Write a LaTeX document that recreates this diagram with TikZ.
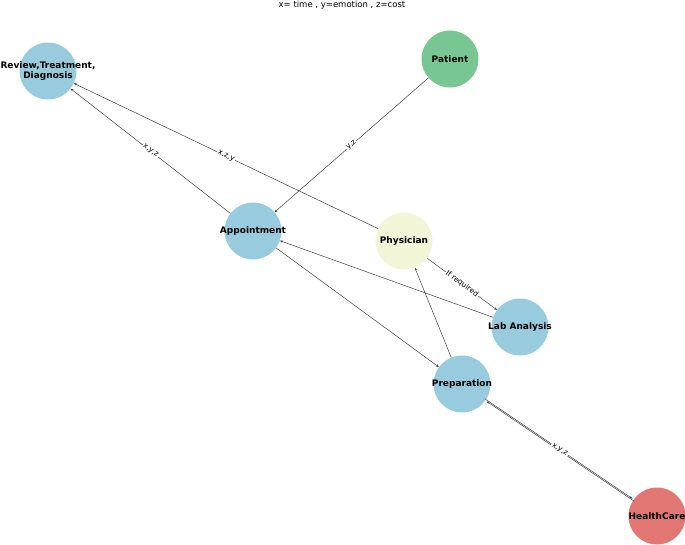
\documentclass[tikz,border=0pt]{standalone}
\usepackage{fontspec}
\setmainfont{DejaVu Sans}
\usetikzlibrary{arrows.meta}
\definecolor{cblue}{HTML}{97CBDD}
\definecolor{cgreen}{HTML}{78C691}
\definecolor{cyel}{HTML}{F2F5D6}
\definecolor{cred}{HTML}{E27672}
\tikzset{
  nd/.style={circle,minimum size=57pt,inner sep=0pt},
  tx/.style={font=\fontsize{9}{10}\selectfont\bfseries,align=center,inner sep=0pt},
  ed/.style={draw=black!75,line width=0.5pt,-{Stealth[length=3pt,width=2.5pt]}},
  el/.style={font=\fontsize{7.5}{8}\selectfont,fill=white,inner sep=1pt,sloped,midway}
}
\begin{document}
\begin{tikzpicture}[x=1pt,y=-1pt]
\useasboundingbox (0,0) rectangle (685,544);
\node[font=\fontsize{8.5}{9}\selectfont] (title) at (342,5) {x= time , y=emotion , z=cost};
\node[nd,fill=cblue] (rev) at (48,71) {};
\node[nd,fill=cgreen] (pat) at (450,59) {};
\node[nd,fill=cblue] (app) at (253,231) {};
\node[nd,fill=cyel] (phy) at (404,241) {};
\node[nd,fill=cblue] (lab) at (520,327) {};
\node[nd,fill=cblue] (prep) at (462,384) {};
\node[nd,fill=cred] (hc) at (657,516) {};
\draw[ed] (pat) -- node[el]{y,z} (app);
\draw[ed] (app) -- node[el]{x,y,z} (rev);
\draw[ed] (phy) -- node[el]{x,z,y} (rev);
\draw[ed] (phy) -- node[el]{If required} (lab);
\draw[ed] (lab) -- (app);
\draw[ed] (app) -- (prep);
\draw[ed] (prep) -- (phy);
\draw[ed,transform canvas={shift={(0.9pt,-1.3pt)}}] (hc) -- (prep);
\draw[ed,transform canvas={shift={(-0.9pt,1.3pt)}}] (prep) -- (hc);
\path (prep) -- node[el]{x,y,z} (hc);
\node[tx] (trev) at (rev) {Review,Treatment,\\Diagnosis};
\node[tx] (tpat) at (pat) {Patient};
\node[tx] (tapp) at (app) {Appointment};
\node[tx] (tphy) at (phy) {Physician};
\node[tx] (tlab) at (lab) {Lab Analysis};
\node[tx] (tprep) at (prep) {Preparation};
\node[tx] (thc) at (hc) {HealthCare};
\end{tikzpicture}
\end{document}
